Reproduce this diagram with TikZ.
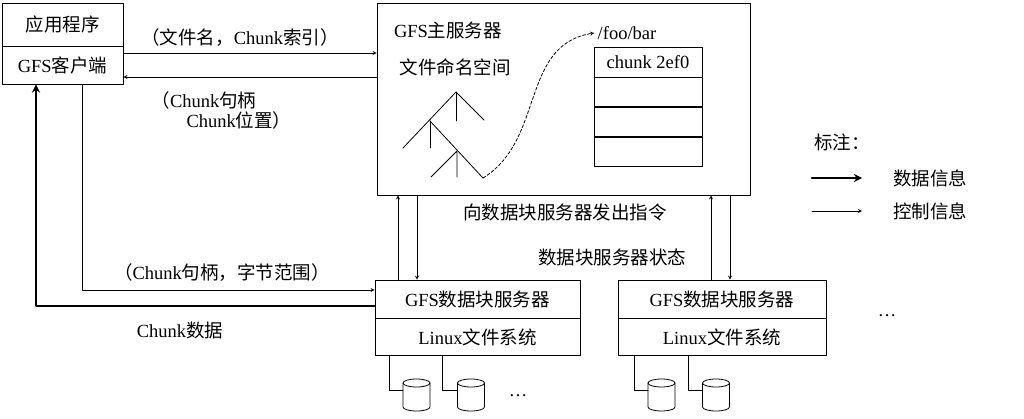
\documentclass[tikz,border=0pt]{standalone}
\usepackage{fontspec}
\setmainfont{Liberation Serif}
\newfontfamily\cjk{Noto Sans CJK SC}
\newcommand{\zh}[1]{{\cjk #1}}
\usetikzlibrary{arrows}
\usetikzlibrary{positioning}
\newcommand{\drum}[1]{%
  \draw[thick] ($(#1)+(-13.5,-11)$) -- ++(0,24) arc[start angle=180, end angle=360, x radius=13.5, y radius=-4] -- ++(0,-24);
  \draw[thick] ($(#1)+(0,-11)$) ellipse[x radius=13.5, y radius=4];}
\usetikzlibrary{calc}

\begin{document}
\begin{tikzpicture}[x=1pt, y=-1pt, line cap=round, line join=round, >=stealth,
  font=\fontsize{18.5}{22}\selectfont,
  box/.style={draw, thick, inner sep=0pt},
  ctrl/.style={->, thick},
  data/.style={->, line width=2.6pt}]
  \useasboundingbox (0,0) rectangle (1024,418);
  %--- Client
    \node[box, minimum width=121pt, minimum height=43pt] (app) at (62.5,24.5) {\zh{应用程序}};
    \node[box, minimum width=121pt, minimum height=38pt] (client) at (62.5,65) {GFS\zh{客户端}};
  %--- Master
    \node[box, minimum width=373pt, minimum height=192pt] (master) at (563.5,99) {};
    \node (mtitle) at (448,30) {GFS\zh{主服务器}};
    \node (nspace) at (455,67) {\zh{文件命名空间}};
  % namespace tree
    \draw[thick] (403,148) -- (456,92) -- (484,120);
    \draw[thick] (456,92) -- (456,121);
    \draw[thick] (430,121) -- (430,148);
    \draw[thick] (430,121) -- (483,178);
    \draw[thick] (431,177) -- (457,151) -- (457,177);
    \coordinate (leaf) at (483,178);
  % chunk table
    \node (foo) at (627,33) {/foo/bar};
    \node[box, minimum width=108pt, minimum height=30pt] (row1) at (648,62) {chunk 2ef0};
    \node[box, minimum width=108pt, minimum height=29pt, below=0pt of row1] (row2) {};
    \node[box, minimum width=108pt, minimum height=29pt, below=0pt of row2] (row3) {};
    \node[box, minimum width=108pt, minimum height=29pt, below=0pt of row3] (row4) {};
    \draw[->, thick, densely dashed] (leaf) .. controls (545,140) and (520,45) .. (foo.west);
  %--- Chunk servers
    \node[box, minimum width=205pt, minimum height=38pt] (cs1) at (477.5,299) {GFS\zh{数据块服务器}};
    \node[box, minimum width=205pt, minimum height=37pt, below=0pt of cs1] (fs1) {Linux\zh{文件系统}};
    \node[box, minimum width=208pt, minimum height=38pt] (cs2) at (722,299) {GFS\zh{数据块服务器}};
    \node[box, minimum width=208pt, minimum height=37pt, below=0pt of cs2] (fs2) {Linux\zh{文件系统}};
    \node (more) at (887,316) {\dots};
  % disks
    \coordinate (d1) at (416.5,394);
    \coordinate (d2) at (471,394);
    \coordinate (d3) at (661.5,394);
    \coordinate (d4) at (716,394);
    \foreach \d in {d1,d2,d3,d4} {\drum{\d}}
    \node (dots1) at (518,396) {\dots};
    \draw[thick] (fs1.south west) ++(15,0) |- ($(d1)+(-13.5,-4)$);
    \draw[thick] (fs1.south west) ++(68,0) |- ($(d2)+(-13.5,-4)$);
    \draw[thick] (fs2.south west) ++(17,0) |- ($(d3)+(-13.5,-4)$);
    \draw[thick] (fs2.south west) ++(71,0) |- ($(d4)+(-13.5,-4)$);
  %--- Client <-> master
    \draw[ctrl] (client.east |- 0,53) -- (master.west |- 0,53);
    \draw[ctrl] (master.west |- 0,77) -- (client.east |- 0,77);
    \node (req) at (240,38) {\zh{（文件名，}Chunk\zh{索引）}};
    \node[anchor=west] (rep1) at (148,100) {\zh{（}Chunk\zh{句柄}};
    \node[anchor=west] (rep2) at (183,120) {Chunk\zh{位置）}};
  %--- Client <-> chunk server
    \coordinate (bend1) at (82,290);
    \coordinate (bend2) at (36,306);
    \draw[ctrl] (client.south -| bend1) -- (bend1) -- (cs1.west |- bend1);
    \draw[data] (cs1.west |- bend2) -- (bend2) -- (client.south -| bend2);
    \node (range) at (222,273) {\zh{（}Chunk\zh{句柄，字节范围）}};
    \node (cdata) at (180,330) {Chunk\zh{数据}};
  %--- Master <-> chunk servers
    \draw[ctrl] (cs1.north -| 398,0) -- (master.south -| 398,0);
    \draw[ctrl] (master.south -| 417,0) -- (cs1.north -| 417,0);
    \draw[ctrl] (cs2.north -| 711,0) -- (master.south -| 711,0);
    \draw[ctrl] (master.south -| 730,0) -- (cs2.north -| 730,0);
    \node (cmd) at (565,212) {\zh{向数据块服务器发出指令}};
    \node (state) at (612,257) {\zh{数据块服务器状态}};
  %--- Legend
    \node (legend) at (842,142) {\zh{标注：}};
    \coordinate (l1a) at (812,178); \coordinate (l1b) at (862,178);
    \coordinate (l2a) at (812,211); \coordinate (l2b) at (862,211);
    \draw[data] (l1a) -- (l1b);
    \draw[ctrl] (l2a) -- (l2b);
    \node (ldata) at (930,178) {\zh{数据信息}};
    \node (lctrl) at (930,211) {\zh{控制信息}};
\end{tikzpicture}
\end{document}
